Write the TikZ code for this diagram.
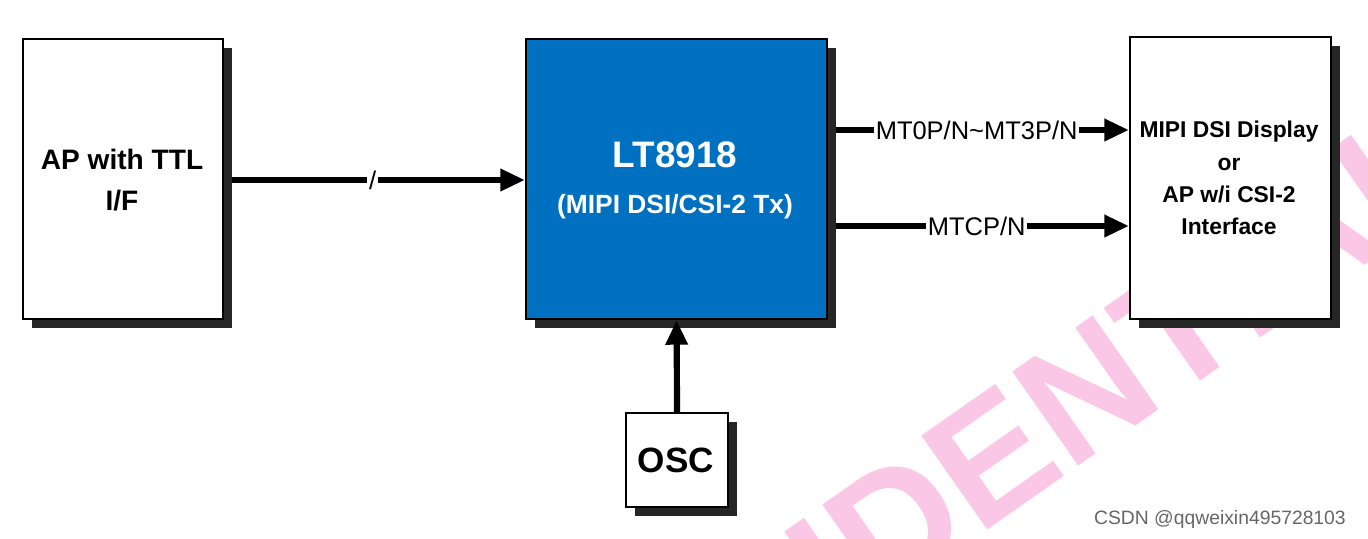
\documentclass[tikz,border=0pt]{standalone}
\usepackage{fontspec}
\setmainfont{Liberation Sans}
\usetikzlibrary{arrows.meta}
\begin{document}
\begin{tikzpicture}[x=0.02cm,y=-0.02cm,
  blk/.style={draw=black,line width=1.2pt,anchor=north west,inner sep=0pt},
  shd/.style={fill=black!85},
  arr/.style={line width=3.5pt,-{Triangle[length=14pt,width=12pt]}},
  sig/.style={fill=white,inner sep=1pt,font=\fontsize{14.5}{18}\selectfont}]
\useasboundingbox (0,0) rectangle (1368,538);
\begin{scope}
\clip (0,0) rectangle (1368,538);
\node[rotate=35,text=magenta!22,font=\bfseries\fontsize{95}{95}\selectfont] (wm) at (930,500) {CONFIDENTIAL};
\end{scope}
% shadows
\fill[shd] (32,48) rectangle (232,328);
\fill[shd] (535,48) rectangle (836,328);
\fill[shd] (1139,46) rectangle (1340,328);
\fill[shd] (635,422) rectangle (737,516);
\node[blk,fill=white,minimum width=200*0.02cm,minimum height=280*0.02cm] (ap) at (22,38) {};
\node[blk,fill={rgb,255:red,0;green,112;blue,192},minimum width=301*0.02cm,minimum height=280*0.02cm] (lt) at (525,38) {};
\node[blk,fill=white,minimum width=201*0.02cm,minimum height=282*0.02cm] (disp) at (1129,36) {};
\node[blk,fill=white,minimum width=102*0.02cm,minimum height=94*0.02cm] (osc) at (625,412) {};
\node[align=center,font=\bfseries\fontsize{16}{23}\selectfont] (apt) at (122,180) {AP with TTL\\I/F};
\node[text=white,font=\bfseries\fontsize{21}{24}\selectfont] (ltt) at (675,155) {LT8918};
\node[text=white,font=\bfseries\fontsize{15}{18}\selectfont] (ltt2) at (675,207) {(MIPI DSI/CSI-2 Tx)};
\node[align=center,font=\bfseries\fontsize{13}{18.3}\selectfont] (dt) at (1229,178) {MIPI DSI Display\\or\\AP w/i CSI-2\\Interface};
\node[font=\bfseries\fontsize{20}{24}\selectfont] (ot) at (676,460) {OSC};
\coordinate (a1) at (232,180); \coordinate (a2) at (525,180);
\draw[arr] (a1) -- (a2) node[sig,pos=0.48] (sl) {/};
\coordinate (b1) at (836,130); \coordinate (b2) at (1129,130);
\draw[arr] (b1) -- (b2) node[sig,pos=0.48] (s1) {MT0P/N\textasciitilde MT3P/N};
\coordinate (c1) at (836,226); \coordinate (c2) at (1129,226);
\draw[arr] (c1) -- (c2) node[sig,pos=0.48] (s2) {MTCP/N};
\draw[arr] (osc.north) -- (lt.south);
\node[text=black!60,font=\fontsize{11}{13}\selectfont,anchor=east] (csdn) at (1352,519) {CSDN @qqweixin495728103};
\end{tikzpicture}
\end{document}
